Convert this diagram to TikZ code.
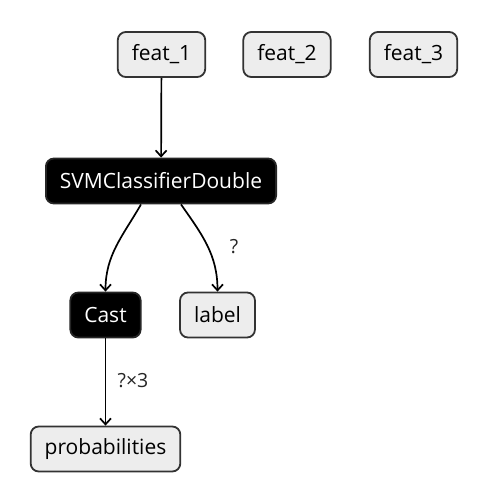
\documentclass[tikz,border=0pt]{standalone}
\usepackage{fontspec}
\setmainfont{Open Sans}
\usepackage{tikz}
\usetikzlibrary{arrows.meta}

\begin{document}
\begin{tikzpicture}[x=1pt,y=-1pt,
        var/.style={draw=black!80,line width=1.8pt,fill=black!7,rounded corners=8pt,minimum height=45pt,inner xsep=14pt,font=\fontsize{21}{24}\selectfont},
        op/.style={var,draw=black!85,fill=black,text=white},
        flow/.style={line width=1.7pt,-{Straight Barb[length=6pt,width=11pt,line width=1.7pt]}},
        dimlabel/.style={font=\fontsize{19.5}{22}\selectfont,text=black!85}]
        \useasboundingbox (0,0) rectangle (488,488);
        \node[var] (feat1) at (161.5,54.5) {feat\_1};
        \node[var] (feat2) at (287,54.5) {feat\_2};
        \node[var] (feat3) at (413.5,54.5) {feat\_3};
        \node[op] (svm) at (161,181) {SVMClassifierDouble};
        \node[op] (cast) at (105.5,315) {Cast};
        \node[var] (lbl) at (217.5,315) {label};
        \node[var] (probs) at (105.5,449) {probabilities};
        \draw[flow] (feat1) -- (svm);
        \draw[flow] ([xshift=-20pt]svm.south) to[out=-120,in=90] (cast.north);
        \draw[flow] ([xshift=20pt]svm.south) to[out=-55,in=90] (lbl.north);
        \draw[flow] (cast) -- (probs);
        \node[dimlabel] (q1) at (234,247) {?};
        \node[dimlabel] (q2) at (133,381) {?×3};
\end{tikzpicture}
\end{document}
